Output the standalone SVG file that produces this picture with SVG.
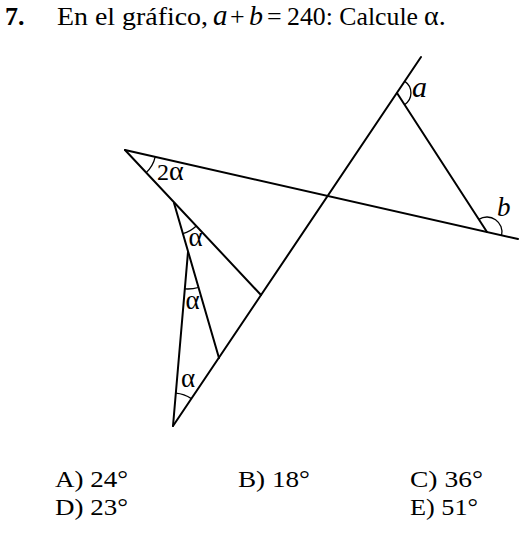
<svg xmlns="http://www.w3.org/2000/svg" width="523" height="533" viewBox="0 0 523 533">
<style>
.t{font-family:"Liberation Serif","Times New Roman",serif;fill:#000}
.ln{stroke:#000;stroke-width:2;fill:none;stroke-linecap:round}
.arc{stroke:#000;stroke-width:1.3;fill:none}
</style>
<rect width="523" height="533" fill="#fff"/>
<g id="header">
<text class="t" font-size="26" y="25"><tspan x="5" font-weight="bold">7.</tspan><tspan x="57" textLength="151" lengthAdjust="spacingAndGlyphs">En el gráfico,</tspan><tspan x="213" font-style="italic" font-size="29">a</tspan><tspan x="230">+</tspan><tspan x="249" font-style="italic" font-size="28">b</tspan><tspan x="267">=</tspan><tspan x="287" textLength="131" lengthAdjust="spacingAndGlyphs">240: Calcule</tspan><tspan x="424" font-size="28">α.</tspan></text>
</g>
<g id="connectors">
<line class="ln" x1="125" y1="150" x2="518" y2="239"/>
<line class="ln" x1="173" y1="426" x2="421" y2="57"/>
<line class="ln" x1="397" y1="93" x2="487" y2="232"/>
<line class="ln" x1="125" y1="150" x2="261" y2="295"/>
<line class="ln" x1="174" y1="203" x2="219" y2="358"/>
<line class="ln" x1="188" y1="252" x2="173" y2="426"/>
</g>
<g id="angle-2alpha">
<path class="arc" d="M155.2,156.9 A31,31 0 0 1 146.2,172.6"/>
<text class="t" font-size="24" x="157" y="180">2<tspan font-size="28">α</tspan></text>
</g>
<g id="angle-alpha-1">
<path class="arc" d="M196,226.3 A32,32 0 0 1 182.9,233.7"/>
<text class="t" font-size="27" x="188.5" y="246">α</text>
</g>
<g id="angle-alpha-2">
<path class="arc" d="M198.3,287.5 A37,37 0 0 1 184.8,288.9"/>
<text class="t" font-size="27" x="185.5" y="309">α</text>
</g>
<g id="angle-alpha-3">
<path class="arc" d="M175.8,393.1 A33,33 0 0 1 191.4,398.6"/>
<text class="t" font-size="27" x="181" y="387">α</text>
</g>
<g id="angle-a">
<path class="arc" d="M404.8,81.4 A14,14 0 0 1 404.6,104.7"/>
<text class="t" font-size="30" font-style="italic" x="412" y="97">a</text>
</g>
<g id="angle-b">
<path class="arc" d="M478.8,219.4 A15,15 0 0 1 501.6,235.3"/>
<text class="t" font-size="27" font-style="italic" x="497" y="216">b</text>
</g>
<g id="answers">
<text class="t" font-size="24" x="55" y="487" textLength="73" lengthAdjust="spacingAndGlyphs">A) 24°</text>
<text class="t" font-size="24" x="238" y="487" textLength="72" lengthAdjust="spacingAndGlyphs">B) 18°</text>
<text class="t" font-size="24" x="410" y="487" textLength="73" lengthAdjust="spacingAndGlyphs">C) 36°</text>
<text class="t" font-size="24" x="55" y="515" textLength="73" lengthAdjust="spacingAndGlyphs">D) 23°</text>
<text class="t" font-size="24" x="410" y="515" textLength="68" lengthAdjust="spacingAndGlyphs">E) 51°</text>
</g>
</svg>
